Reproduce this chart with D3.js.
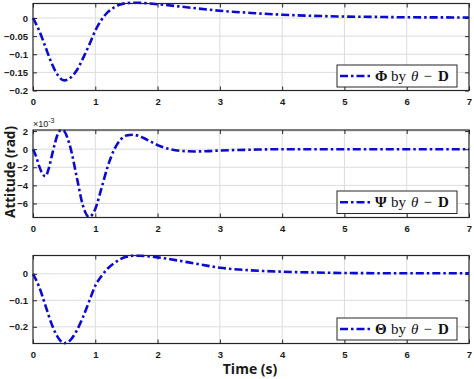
<!DOCTYPE html>
<html>
<head>
<meta charset="utf-8">
<script src="https://cdn.jsdelivr.net/npm/d3@7"></script>
<style>
body { margin: 0; background: #fff; }
</style>
</head>
<body>
<div id="chart"></div>
<script>
// time stamps and response values
var tPhi = [0, 0.1, 0.2, 0.3, 0.4, 0.5, 0.6, 0.7, 0.8, 0.9, 1.0, 1.1, 1.2, 1.3, 1.4, 1.5, 1.6, 1.7, 1.8, 2.0, 2.5, 3.0, 3.5, 4.0, 4.5, 5.0, 5.5, 6.0, 7.0];
var phi  = [0, -0.035, -0.08, -0.125, -0.158, -0.172, -0.165, -0.145, -0.112, -0.075, -0.035, -0.005, 0.016, 0.029, 0.037, 0.041, 0.042, 0.042, 0.041, 0.038, 0.029, 0.02, 0.014, 0.009, 0.006, 0.004, 0.003, 0.002, 0.0015];

var tPsi = [0, 0.05, 0.1, 0.15, 0.2, 0.25, 0.3, 0.35, 0.4, 0.45, 0.5, 0.55, 0.6, 0.7, 0.8, 0.9, 1.0, 1.1, 1.2, 1.3, 1.4, 1.5, 1.6, 1.7, 1.8, 1.9, 2.0, 2.2, 2.4, 2.6, 2.8, 3.0, 3.5, 4.0, 5.0, 6.0, 7.0];
var psi  = [0, -0.8, -1.9, -2.7, -3.0, -2.2, -0.8, 0.6, 1.7, 2.1, 2.0, 1.3, 0.2, -3.0, -6.2, -7.5, -6.6, -4.3, -1.9, -0.1, 1.0, 1.5, 1.6, 1.45, 1.15, 0.8, 0.45, 0.0, -0.2, -0.25, -0.22, -0.15, -0.06, 0, 0, 0, 0];

var tTheta = [0, 0.1, 0.2, 0.3, 0.4, 0.5, 0.6, 0.7, 0.8, 0.9, 1.0, 1.1, 1.2, 1.3, 1.4, 1.5, 1.6, 1.7, 1.8, 2.0, 2.5, 3.0, 3.5, 4.0, 4.5, 5.0, 6.0, 7.0];
var theta  = [0, -0.05, -0.12, -0.19, -0.24, -0.262, -0.25, -0.215, -0.165, -0.105, -0.045, -0.008, 0.02, 0.04, 0.055, 0.064, 0.068, 0.068, 0.067, 0.062, 0.043, 0.023, 0.013, 0.008, 0.005, 0.003, 0.002, 0.002];

var xTicks = [0, 1, 2, 3, 4, 5, 6, 7];
var phiTicks = [-0.2, -0.15, -0.1, -0.05, 0];
var psiTicks = [-6, -4, -2, 0, 2];
var thetaTicks = [-0.2, -0.1, 0];

var W = 474, H = 379;
var left = 33, right = 469;
var blue = "#0a0ad2";
var dash = "8,3,2.5,3";

var svg = d3.select("#chart").append("svg")
	.attr("width", W).attr("height", H)
	.style("font-family", "'Liberation Sans', Arial, sans-serif");

var x = d3.scaleLinear().domain([0, 7]).range([left, right]);

var panels = [
	{ t: tPhi, v: phi, top: 3.5, bottom: 90.5, dom: [-0.2, 0.04], ticks: phiTicks, sym: "Φ", legTop: 65, legBot: 87 },
	{ t: tPsi, v: psi, top: 130, bottom: 217.5, dom: [-7.55, 2.12], ticks: psiTicks, sym: "Ψ", legTop: 191, legBot: 213.5, exp: true },
	{ t: tTheta, v: theta, top: 255.5, bottom: 343.5, dom: [-0.263, 0.069], ticks: thetaTicks, sym: "Θ", legTop: 318, legBot: 340 }
];

panels.forEach(function(p) {
	var y = d3.scaleLinear().domain(p.dom).range([p.bottom, p.top]);
	var g = svg.append("g");

	// grid
	g.selectAll(".gx").data(xTicks.slice(1, -1)).enter().append("line")
		.attr("x1", function(d) { return x(d); }).attr("x2", function(d) { return x(d); })
		.attr("y1", p.top).attr("y2", p.bottom)
		.attr("stroke", "#dcdcdc").attr("stroke-width", 1);
	g.selectAll(".gy").data(p.ticks).enter().append("line")
		.attr("x1", left).attr("x2", right)
		.attr("y1", function(d) { return y(d); }).attr("y2", function(d) { return y(d); })
		.attr("stroke", "#dcdcdc").attr("stroke-width", 1);

	// axes
	var ax = g.append("g").attr("transform", "translate(0," + p.bottom + ")")
		.call(d3.axisBottom(x).tickValues(xTicks).tickSize(-4).tickPadding(8).tickFormat(d3.format("d")));
	var ay = g.append("g").attr("transform", "translate(" + left + ",0)")
		.call(d3.axisLeft(y).tickValues(p.ticks).tickSize(-4).tickPadding(5).tickFormat(d3.format("~g")));
	var ay2 = g.append("g").attr("transform", "translate(" + right + ",0)")
		.call(d3.axisRight(y).tickValues(p.ticks).tickSize(-4).tickFormat(""));
	var ax2 = g.append("g").attr("transform", "translate(0," + p.top + ")")
		.call(d3.axisTop(x).tickValues(xTicks).tickSize(-4).tickFormat(""));
	[ax, ay, ay2, ax2].forEach(function(a) {
		a.select(".domain").remove();
		a.selectAll("line").attr("stroke", "#262626");
		a.selectAll("text").attr("fill", "#1a1a1a").style("font-size", "9.5px").style("font-weight", "bold");
	});
	ax.selectAll("text").attr("dy", "0.71em");

	// line
	var pts = p.t.map(function(t, i) { return [t, p.v[i]]; });
	var line = d3.line().x(function(d) { return x(d[0]); }).y(function(d) { return y(d[1]); }).curve(d3.curveMonotoneX);
	g.append("path").datum(pts).attr("d", line)
		.attr("fill", "none").attr("stroke", blue).attr("stroke-width", 2.6)
		.attr("stroke-dasharray", dash);

	// box
	g.append("rect").attr("x", left).attr("y", p.top).attr("width", right - left).attr("height", p.bottom - p.top)
		.attr("fill", "none").attr("stroke", "#262626").attr("stroke-width", 1.2);

	if (p.exp) {
		var e = g.append("text").attr("x", left).attr("y", p.top - 3)
			.style("font-size", "9px").attr("fill", "#1a1a1a");
		e.append("tspan").text("×10");
		e.append("tspan").attr("dy", -4).style("font-size", "7px").text("-3");
	}

	// legend
	var lx0 = 337, lx1 = 457;
	g.append("rect").attr("x", lx0).attr("y", p.legTop).attr("width", lx1 - lx0).attr("height", p.legBot - p.legTop)
		.attr("fill", "#fff").attr("stroke", "#262626").attr("stroke-width", 1);
	var ly = (p.legTop + p.legBot) / 2;
	g.append("line").attr("x1", lx0 + 3).attr("x2", lx0 + 35).attr("y1", ly).attr("y2", ly)
		.attr("stroke", blue).attr("stroke-width", 2.6).attr("stroke-dasharray", "8,3,2.5,3");
	var lt = g.append("text").attr("y", ly + 5)
		.style("font-family", "'Liberation Serif', 'DejaVu Serif', serif").style("font-size", "15px").attr("fill", "#111");
	lt.append("tspan").attr("x", 375).style("font-weight", "bold").text(p.sym);
	lt.append("tspan").attr("x", 391).text("by");
	lt.append("tspan").attr("x", 411).style("font-style", "italic").text("θ");
	lt.append("tspan").attr("x", 423.5).text("−");
	lt.append("tspan").attr("x", 438).style("font-weight", "bold").text("D");
});

svg.append("text").attr("x", 250).attr("y", 374).attr("text-anchor", "middle")
	.style("font-family", "'Open Sans', sans-serif").style("font-size", "14px").style("font-weight", "bold")
	.attr("fill", "#1a1a1a").text("Time (s)");

svg.append("text").attr("transform", "translate(14.5,172) rotate(-90)").attr("text-anchor", "middle")
	.style("font-family", "'Open Sans', sans-serif").style("font-size", "13.5px").style("font-weight", "bold")
	.attr("fill", "#1a1a1a").text("Attitude (rad)");
</script>
</body>
</html>
